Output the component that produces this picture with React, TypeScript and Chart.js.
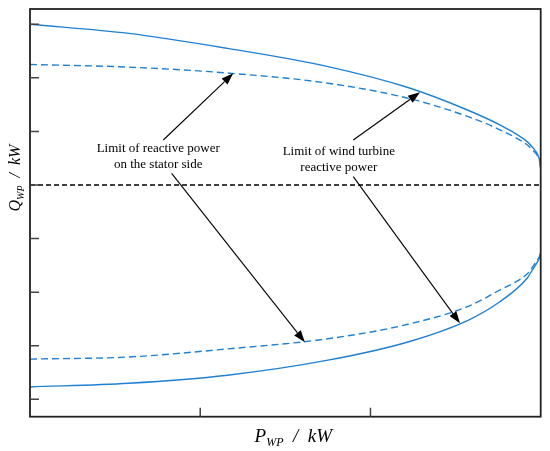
import { useEffect, useRef } from "react";
import { Chart, registerables } from "chart.js";

Chart.register(...registerables);

// active power (P_WP) sample points, plot units
const P_WP = [0, 0.58, 1.16, 1.75, 2.22, 2.57, 2.76, 2.92, 2.95, 2.98, 2.995, 3.0];
// wind turbine reactive power limit (solid)
const windUpper = [3.0, 2.83, 2.55, 2.21, 1.82, 1.4, 1.12, 0.81, 0.71, 0.58, 0.44, 0.3];
const windLower = [-3.77, -3.7, -3.55, -3.27, -2.93, -2.53, -2.18, -1.74, -1.59, -1.44, -1.34, -1.26];
// stator side reactive power limit (dashed)
const statorUpper = [2.25, 2.2, 2.09, 1.9, 1.62, 1.28, 1.03, 0.75, 0.66, 0.55, 0.43, 0.31];
const statorLower = [-3.25, -3.21, -3.06, -2.87, -2.6, -2.27, -1.96, -1.66, -1.54, -1.4, -1.32, -1.26];
// zero reference
const zeroX = [0, 3];
const zeroY = [0, 0];

const xTicks = [1, 2];
const yTicks = [-4, -3, -2, -1, 0, 1, 2, 3];

const labelStator = ["Limit of reactive power", "on the stator side"];
const labelWind = ["Limit of wind turbine", "reactive power"];

const SERIF = '"Liberation Serif", "Times New Roman", serif';
const BLUE = "#1f80d4";

const toPts = (xs: number[], ys: number[]) => xs.map((x, i) => ({ x, y: ys[i] }));

const decorations = {
  id: "decorations",
  afterDatasetsDraw(chart: any) {
    const { ctx, chartArea: a, scales } = chart;
    const xs = scales.x;
    const ys = scales.y;
    const px = (v: number) => xs.getPixelForValue(v);
    const py = (v: number) => ys.getPixelForValue(v);
    ctx.save();

    // frame
    ctx.strokeStyle = "#222";
    ctx.lineWidth = 1.8;
    ctx.strokeRect(a.left, a.top, a.right - a.left, a.bottom - a.top);

    // inside ticks
    ctx.strokeStyle = "#444";
    ctx.lineWidth = 1.5;
    ctx.beginPath();
    xTicks.forEach((t) => {
      ctx.moveTo(px(t), a.bottom);
      ctx.lineTo(px(t), a.bottom - 9);
    });
    yTicks.forEach((t) => {
      ctx.moveTo(a.left, py(t));
      ctx.lineTo(a.left + 9, py(t));
    });
    ctx.stroke();

    // arrows
    const arrows = [
      [0.783, 0.84, 1.194, 2.085],
      [0.832, 0.218, 1.615, -2.936],
      [1.899, 0.84, 2.291, 1.73],
      [1.899, 0.155, 2.526, -2.582],
    ];
    ctx.strokeStyle = "#000";
    ctx.fillStyle = "#000";
    ctx.lineWidth = 1.1;
    arrows.forEach(([x1, y1, x2, y2]) => {
      const sx = px(x1), sy = py(y1), ex = px(x2), ey = py(y2);
      const ang = Math.atan2(ey - sy, ex - sx);
      const len = 12, half = 4.2;
      const bx = ex - len * Math.cos(ang), by = ey - len * Math.sin(ang);
      ctx.beginPath();
      ctx.moveTo(sx, sy);
      ctx.lineTo(bx, by);
      ctx.stroke();
      ctx.beginPath();
      ctx.moveTo(ex, ey);
      ctx.lineTo(bx + half * Math.sin(ang), by - half * Math.cos(ang));
      ctx.lineTo(bx - half * Math.sin(ang), by + half * Math.cos(ang));
      ctx.closePath();
      ctx.fill();
    });

    // labels
    ctx.font = `13px ${SERIF}`;
    ctx.textAlign = "center";
    ctx.textBaseline = "middle";
    const drawLines = (lines: string[], x: number, y: number) => {
      lines.forEach((l, i) => {
        ctx.fillText(l, px(x), py(y) + (i - (lines.length - 1) / 2) * 16);
      });
    };
    drawLines(labelStator, 0.753, 0.523);
    drawLines(labelWind, 1.814, 0.472);

    // axis titles with subscripts
    const subTitle = (main: string, sub: string, rest: string, size: number) => {
      const fMain = `italic ${size}px ${SERIF}`;
      const fSub = `italic ${Math.round(size * 0.62)}px ${SERIF}`;
      ctx.font = fMain;
      const w1 = ctx.measureText(main).width;
      const w3 = ctx.measureText(rest).width;
      ctx.font = fSub;
      const w2 = ctx.measureText(sub).width;
      let x = -(w1 + w2 + w3) / 2;
      ctx.textAlign = "left";
      ctx.textBaseline = "alphabetic";
      ctx.font = fMain;
      ctx.fillText(main, x, 0);
      x += w1;
      ctx.font = fSub;
      ctx.fillText(sub, x, size * 0.22);
      x += w2;
      ctx.font = fMain;
      ctx.fillText(rest, x, 0);
    };

    ctx.save();
    ctx.translate((a.left + a.right) / 2 + 8, a.bottom + 25);
    subTitle("P", "WP", "  /  kW", 19);
    ctx.restore();

    ctx.save();
    ctx.translate(20, py(0.13));
    ctx.rotate(-Math.PI / 2);
    subTitle("Q", "WP", "  /  kW", 16);
    ctx.restore();

    ctx.restore();
  },
};

const App = () => {
  const canvasRef = useRef<HTMLCanvasElement>(null);

  useEffect(() => {
    if (!canvasRef.current) return;
    const ctx = canvasRef.current.getContext("2d");
    if (!ctx) return;

    const line = (data: { x: number; y: number }[], color: string, dash: number[], width: number) => ({
      data,
      showLine: true,
      borderColor: color,
      borderWidth: width,
      borderDash: dash,
      pointRadius: 0,
      cubicInterpolationMode: "monotone" as const,
      fill: false,
    });

    const chart = new Chart(ctx, {
      type: "scatter",
      data: {
        datasets: [
          line(toPts(zeroX, zeroY), "#000", [5, 3], 1.3),
          line(toPts(P_WP, windUpper), BLUE, [], 1.4),
          line(toPts(P_WP, windLower), BLUE, [], 1.4),
          line(toPts(P_WP, statorUpper), BLUE, [7, 4], 1.4),
          line(toPts(P_WP, statorLower), BLUE, [7, 4], 1.4),
        ],
      },
      options: {
        animation: false,
        responsive: true,
        maintainAspectRatio: false,
        layout: { padding: { left: 30, top: 9, right: 9.3, bottom: 34.3 } },
        plugins: {
          legend: { display: false },
          tooltip: { enabled: false },
        },
        scales: {
          x: { type: "linear", min: 0, max: 3, display: false },
          y: { type: "linear", min: -4.325, max: 3.285, display: false },
        },
      },
      plugins: [decorations],
    });

    return () => chart.destroy();
  }, []);

  return (
    <div style={{ position: "fixed", left: 0, top: 0, width: 550, height: 451, background: "#fff" }}>
      <canvas ref={canvasRef}></canvas>
    </div>
  );
};

export default App;
